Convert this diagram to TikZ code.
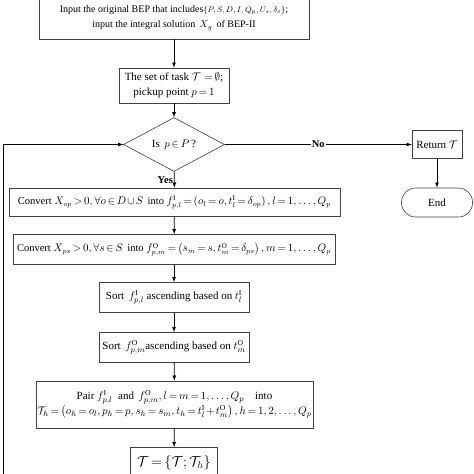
\documentclass[tikz,border=0pt]{standalone}
\usepackage{fontspec}
\setmainfont{Liberation Serif}
\usepackage{amsmath,amssymb}
\usetikzlibrary{positioning,shapes.geometric,arrows}
\AtBeginDocument{\thickmuskip=3mu plus 1mu\relax\medmuskip=2mu plus 1mu\relax}

\begin{document}
\begin{tikzpicture}[
box/.style={
  draw=black!75,
  line width=0.6pt,
  fill=white,
  align=center,
  inner sep=1pt,
  minimum height=28pt,
  font=\fontsize{11}{15}\selectfont
  },
convbox/.style={
  box,
  font=\fontsize{10.5}{15}\selectfont
  },
decision/.style={
  box,
  diamond,
  inner sep=0pt,
  minimum width=101pt,
  minimum height=41pt
  },
terminal/.style={
  box,
  rounded corners=14pt,
  minimum width=71pt,
  minimum height=29pt
  },
lbl/.style={
  font=\fontsize{10.5}{12}\selectfont\bfseries,
  inner sep=1pt
  },
line width=0.8pt,
>=latex
]
\useasboundingbox (0,0) rectangle (474pt,-474pt);
% main column
\node[box, minimum width=270pt, minimum height=42pt,
  font=\fontsize{10}{15}\selectfont] (in) at (174pt,-18pt)
  {Input the original BEP that includes{\footnotesize$\{P,S,D,I,Q_p,U_s,\delta_s\}$};\\
   input the integral solution\, $X_g$\, of BEP-II};
\node[box, minimum width=110pt, minimum height=35pt] (init) at (174pt,-85.5pt)
  {The set of task $\mathcal{T}\,=\emptyset$;\\ pickup point $p=1$};
\node[decision] (dia) at (174pt,-144.5pt) {Is\, $p\in P$\,?};
\node[convbox, minimum width=331pt] (conv1) at (174.5pt,-202pt)
  {Convert $X_{op}>0,\forall o\in D\cup S$\, into $f^{\mathrm{I}}_{p,l}=\left(o_l=o,t^{\mathrm{I}}_l=\delta_{op}\right),l=1,\ldots,Q_p$};
\node[convbox, minimum width=322pt, minimum height=30pt] (conv2) at (174pt,-249.5pt)
  {Convert $X_{ps}>0,\forall s\in S$\, into $f^{\mathrm{O}}_{p,m}=\left(s_m=s,t^{\mathrm{O}}_m=\delta_{ps}\right),m=1,\ldots,Q_p$};
\node[box, minimum width=150pt, minimum height=30pt] (sort1) at (174pt,-297.5pt)
  {Sort\, $f^{\mathrm{I}}_{p,l}$ ascending based on $t^{\mathrm{I}}_l$};
\node[box, minimum width=150pt, minimum height=30pt] (sort2) at (174pt,-347.5pt)
  {Sort\, $f^{\mathrm{O}}_{p,m}$ascending based on $t^{\mathrm{O}}_m$};
\node[box, minimum width=277pt, minimum height=47pt] (pair) at (174.5pt,-404.5pt)
  {Pair $f^{\mathrm{I}}_{p,l}$\; and\, $f^{\mathrm{O}}_{p,m},l=m=1,\ldots,Q_p$\quad into\\
   $\mathcal{T}_h=\left(o_h=o_l,p_h=p,s_h=s_m,t_h=t^{\mathrm{I}}_l+t^{\mathrm{O}}_m\right),h=1,2,\ldots,Q_p$};
\node[box, minimum width=87pt, minimum height=31pt,
  font=\fontsize{14}{16}\selectfont] (fin) at (174pt,-463pt)
  {$\mathcal{T}=\{\mathcal{T};\mathcal{T}_h\}$};
% right branch
\node[box, minimum width=50pt] (ret) at (437pt,-144.5pt) {Return $\mathcal{T}$};
\node[terminal] (stop) at (437pt,-202.5pt) {End};
\coordinate (back) at (3pt,-490pt);
% connectors
\foreach \a/\b in {in/init,init/dia,conv1/conv2,conv2/sort1,sort1/sort2,sort2/pair,pair/fin,ret/stop}
  \draw[->] (\a) -- (\b);
\draw[->] (dia) -- node[lbl, left] {Yes} (conv1);
\draw[->] (dia) -- node[lbl, fill=white] {No} (ret);
\draw[->] (fin.south) |- (back) |- (dia.west);
\end{tikzpicture}
\end{document}
